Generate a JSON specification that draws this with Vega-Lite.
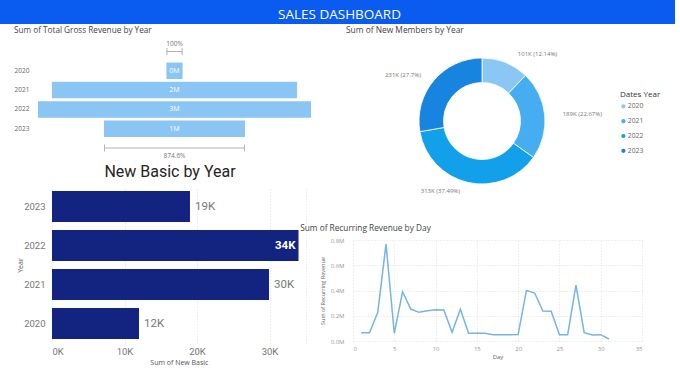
{
  "$schema": "https://vega.github.io/schema/vega-lite/v6.json",
  "padding": 0,
  "background": "white",
  "config": {
    "view": {"stroke": null},
    "font": "Open Sans",
    "title": {"fontWeight": "normal", "color": "#333"},
    "axis": {"grid": false, "ticks": false, "tickSize": 0, "domain": false, "labelColor": "#777", "titleColor": "#555", "titleFontWeight": "normal", "tickColor": "#dedede", "tickDash": [1, 2], "tickWidth": 1}
  },
  "title": {"text": "SALES DASHBOARD", "color": "white", "fontSize": 13.5, "anchor": "middle", "frame": "bounds", "offset": -21, "dx": 2, "zindex": 1},
  "datasets": {
    "funnel": [
      {"Year": "2020", "Revenue": 162400, "Label": "0M"},
      {"Year": "2021", "Revenue": 2470000, "Label": "2M"},
      {"Year": "2022", "Revenue": 2750000, "Label": "3M"},
      {"Year": "2023", "Revenue": 1420000, "Label": "1M"}
    ],
    "brackets": [
      {"Row": "top", "Label": "100%"},
      {"Row": "bottom", "Label": "874.6%"}
    ],
    "members": [
      {"Year": "2020", "Members": 101250, "Label": "101K (12.14%)"},
      {"Year": "2021", "Members": 189070, "Label": "189K (22.67%)"},
      {"Year": "2022", "Members": 312670, "Label": "313K (37.49%)"},
      {"Year": "2023", "Members": 231000, "Label": "231K (27.7%)"}
    ],
    "basic": [
      {"Year": "2023", "Basic": 19030, "Label": "19K"},
      {"Year": "2022", "Basic": 34000, "Label": "34K"},
      {"Year": "2021", "Basic": 29930, "Label": "30K"},
      {"Year": "2020", "Basic": 12000, "Label": "12K"}
    ],
    "recurring": [
      {"Day": 1, "Revenue": 66000}, {"Day": 2, "Revenue": 66000}, {"Day": 3, "Revenue": 227000},
      {"Day": 4, "Revenue": 768000}, {"Day": 5, "Revenue": 61000}, {"Day": 6, "Revenue": 390000},
      {"Day": 7, "Revenue": 253000}, {"Day": 8, "Revenue": 227000}, {"Day": 9, "Revenue": 240000},
      {"Day": 10, "Revenue": 248000}, {"Day": 11, "Revenue": 245000}, {"Day": 12, "Revenue": 69000},
      {"Day": 13, "Revenue": 251000}, {"Day": 14, "Revenue": 61000}, {"Day": 15, "Revenue": 61000},
      {"Day": 16, "Revenue": 61000}, {"Day": 17, "Revenue": 50000}, {"Day": 18, "Revenue": 50000},
      {"Day": 19, "Revenue": 50000}, {"Day": 20, "Revenue": 51000}, {"Day": 21, "Revenue": 401000},
      {"Day": 22, "Revenue": 380000}, {"Day": 23, "Revenue": 238000}, {"Day": 24, "Revenue": 235000},
      {"Day": 25, "Revenue": 50000}, {"Day": 26, "Revenue": 50000}, {"Day": 27, "Revenue": 443000},
      {"Day": 28, "Revenue": 66000}, {"Day": 29, "Revenue": 47500}, {"Day": 30, "Revenue": 50000},
      {"Day": 31, "Revenue": 16000}
    ]
  },
  "columns": 2,
  "align": "each",
  "bounds": "flush",
  "spacing": {"row": 0, "column": 0},
  "resolve": {"scale": {"color": "independent", "strokeDash": "independent"}, "legend": {"color": "independent"}},
  "concat": [
    {"width": 340, "height": 24, "view": {"fill": "#0a5cf0", "stroke": null}, "data": {"values": []}, "mark": "point", "encoding": {}},
    {"width": 335, "height": 24, "view": {"fill": "#0a5cf0", "stroke": null}, "data": {"values": []}, "mark": "point", "encoding": {}},
    {
      "width": 340, "height": 136,
      "title": {"text": "Sum of Total Gross Revenue by Year", "anchor": "start", "dx": 14, "offset": -11, "fontSize": 8.2, "color": "#444"},
      "layer": [
        {"data": {"name": "funnel"}, "mark": {"type": "bar", "color": "#8ac5f3"},
         "encoding": {
           "y": {"field": "Year", "type": "nominal", "scale": {"domain": ["top", "2020", "2021", "2022", "2023", "bottom"], "range": [17.85, 133.65], "paddingInner": 0.145, "paddingOuter": 0.0725},
                 "axis": {"title": null, "orient": "left", "offset": -14, "labelAlign": "left", "labelPadding": 0, "labelFontSize": 6.5, "labelColor": "#666", "labelExpr": "datum.value == 'top' || datum.value == 'bottom' ? '' : datum.value"}},
           "x": {"field": "Revenue", "type": "quantitative", "stack": "center", "scale": {"domain": [0, 2750000], "range": [38, 311], "nice": false, "zero": false}, "axis": null}
         }},
        {"data": {"name": "funnel"}, "mark": {"type": "text", "color": "white", "fontSize": 7},
         "encoding": {"y": {"field": "Year", "type": "nominal"}, "x": {"datum": 1375000, "type": "quantitative"}, "text": {"field": "Label"}}},
        {"data": {"name": "funnel"}, "mark": {"type": "rule", "color": "#b3b3b3", "strokeWidth": 1, "yOffset": -19.3},
         "encoding": {"y": {"field": "Year", "type": "nominal"}, "x": {"field": "Revenue", "type": "quantitative", "stack": "center"},
           "opacity": {"condition": {"test": "datum.Year == '2020'", "value": 1}, "value": 0}}},
        {"data": {"name": "funnel"}, "mark": {"type": "rule", "color": "#b3b3b3", "strokeWidth": 7, "yOffset": -19.3},
         "encoding": {"y": {"field": "Year", "type": "nominal"}, "x": {"field": "Revenue", "type": "quantitative", "stack": "center"},
           "opacity": {"condition": {"test": "datum.Year == '2020'", "value": 1}, "value": 0},
           "strokeDash": {"field": "Year", "type": "nominal", "scale": {"domain": ["2020", "2021", "2022", "2023"], "range": [[1, 14.1, 1, 400], [1, 1000], [1, 1000], [1, 139, 1, 400]]}, "legend": null}}},
        {"data": {"name": "funnel"}, "mark": {"type": "rule", "color": "#b3b3b3", "strokeWidth": 1, "yOffset": 19.3},
         "encoding": {"y": {"field": "Year", "type": "nominal"}, "x": {"field": "Revenue", "type": "quantitative", "stack": "center"},
           "opacity": {"condition": {"test": "datum.Year == '2023'", "value": 1}, "value": 0}}},
        {"data": {"name": "funnel"}, "mark": {"type": "rule", "color": "#b3b3b3", "strokeWidth": 7, "yOffset": 19.3},
         "encoding": {"y": {"field": "Year", "type": "nominal"}, "x": {"field": "Revenue", "type": "quantitative", "stack": "center"},
           "opacity": {"condition": {"test": "datum.Year == '2023'", "value": 1}, "value": 0},
           "strokeDash": {"field": "Year", "type": "nominal", "scale": {"domain": ["2020", "2021", "2022", "2023"], "range": [[1, 14.1, 1, 400], [1, 1000], [1, 1000], [1, 139, 1, 400]]}, "legend": null}}},
        {"data": {"name": "brackets"}, "transform": [{"filter": "datum.Row == 'top'"}], "mark": {"type": "text", "color": "#777", "fontSize": 6.5, "dy": -8},
         "encoding": {"y": {"field": "Row", "type": "nominal"}, "x": {"datum": 1375000, "type": "quantitative"}, "text": {"field": "Label"}}},
        {"data": {"name": "brackets"}, "transform": [{"filter": "datum.Row == 'bottom'"}], "mark": {"type": "text", "color": "#777", "fontSize": 6.5, "dy": 8},
         "encoding": {"y": {"field": "Row", "type": "nominal"}, "x": {"datum": 1375000, "type": "quantitative"}, "text": {"field": "Label"}}}
      ]
    },
    {
      "width": 284, "height": 194,
      "title": {"text": "Sum of New Members by Year", "anchor": "start", "dx": 6, "offset": -10, "fontSize": 8.4, "color": "#444"},
      "data": {"name": "members"},
      "encoding": {
        "theta": {"field": "Members", "type": "quantitative", "stack": true},
        "order": {"field": "Year", "type": "ordinal", "sort": "ascending"}
      },
      "layer": [
        {"mark": {"type": "arc", "innerRadius": 38.5, "outerRadius": 63, "stroke": "white", "strokeWidth": 0.8},
         "encoding": {"color": {"field": "Year", "type": "nominal",
           "scale": {"domain": ["2020", "2021", "2022", "2023"], "range": ["#8bc7f4", "#45adf0", "#12a0ea", "#1784e0"]},
           "legend": {"title": "Dates Year", "orient": "none", "legendX": 280, "legendY": 67, "titleFontSize": 8, "titleColor": "#333", "titleFontWeight": "normal", "labelFontSize": 6.8, "labelColor": "#666", "symbolType": "circle", "symbolSize": 18, "symbolStrokeWidth": 0, "rowPadding": 6.8, "labelOffset": 1, "padding": 0, "titlePadding": 4}}}},
        {"mark": {"type": "text", "radius": 72, "fontSize": 6, "color": "#777",
                  "align": {"expr": "datum.Year < '2022' ? 'left' : 'right'"},
                  "dx": {"expr": "datum.Year < '2022' ? 9 : -6"}},
         "encoding": {"text": {"field": "Label"}, "detail": {"field": "Year"}}}
      ]
    },
    {
      "width": 340, "height": 125,
      "title": {"text": "New Basic by Year", "font": "Roboto", "fontSize": 16, "color": "#252423", "anchor": "middle", "offset": 7},
      "data": {"name": "basic"},
      "encoding": {
        "y": {"field": "Year", "type": "nominal", "scale": {"domain": ["2023", "2022", "2021", "2020"], "range": [-31, 125], "paddingInner": 0.2, "paddingOuter": 0.1},
              "axis": {"offset": -52, "labelPadding": 7, "labelFont": "Roboto", "labelFontSize": 9.5, "labelColor": "#777", "title": "Year", "titleFontSize": 7, "titlePadding": 0}},
        "x": {"field": "Basic", "type": "quantitative", "scale": {"domain": [0, 35000], "range": [52, 305.75], "nice": false},
              "axis": {"values": [0, 10000, 20000, 30000, 35000], "labelExpr": "datum.value == 35000 ? '' : datum.value / 1000 + 'K'", "labelFont": "Roboto", "labelFontSize": 9.5, "labelColor": "#777", "ticks": true, "tickSize": -156, "labelPadding": 159, "title": "Sum of New Basic", "titleFontSize": 7, "titlePadding": 3}}
      },
      "layer": [
        {"mark": {"type": "bar", "color": "#12247f"}},
        {"transform": [{"filter": "datum.Basic < 33000"}], "mark": {"type": "text", "align": "left", "dx": 5, "font": "Roboto", "fontSize": 11.5, "color": "#777"}, "encoding": {"text": {"field": "Label"}}},
        {"transform": [{"filter": "datum.Basic >= 33000"}], "mark": {"type": "text", "align": "right", "dx": -3, "font": "Roboto", "fontSize": 11.5, "fontWeight": "bold", "color": "white"}, "encoding": {"text": {"field": "Label"}}}
      ]
    },
    {
      "width": 320, "height": 123,
      "title": {"text": "Sum of Recurring Revenue by Day", "anchor": "start", "dx": -20, "offset": -14, "fontSize": 8.3, "color": "#444"},
      "data": {"name": "recurring"},
      "mark": {"type": "line", "color": "#76b4e2", "strokeWidth": 1.5},
      "encoding": {
        "x": {"field": "Day", "type": "quantitative", "scale": {"domain": [0, 35], "range": [13, 302], "nice": false},
              "axis": {"values": [0, 5, 10, 15, 20, 25, 30, 35], "labelFontSize": 6, "labelColor": "#999", "ticks": true, "tickSize": -101, "labelPadding": 105, "title": "Day", "titleFontSize": 6, "titleColor": "#666", "titlePadding": 2}},
        "y": {"field": "Revenue", "type": "quantitative", "scale": {"domain": [0, 800000], "range": [123, 22], "nice": false},
              "axis": {"values": [0, 200000, 400000, 600000, 800000], "labelExpr": "format(datum.value / 1000000, '.1f') + 'M'", "offset": -13, "labelFontSize": 6, "labelColor": "#999", "ticks": true, "tickSize": -289, "labelPadding": 298, "title": "Sum of Recurring Revenue", "titleFontSize": 5.5, "titleColor": "#666", "titlePadding": 5}}
      }
    }
  ]
}
